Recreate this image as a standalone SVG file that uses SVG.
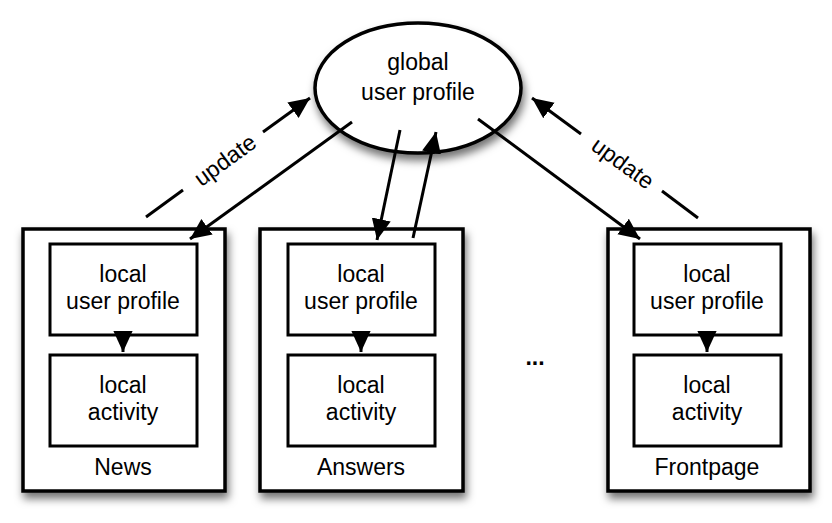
<svg xmlns="http://www.w3.org/2000/svg" width="832" height="523" viewBox="0 0 832 523">
<style>
.b{fill:#fff;stroke:#000;stroke-width:3.5}
.i{fill:#fff;stroke:#000;stroke-width:3}
.t{font-family:"Liberation Sans",Arial,sans-serif;font-size:23px;text-anchor:middle;fill:#000}
.c{stroke:#000;stroke-width:3;fill:none}
</style>
<defs>
<filter id="sh" x="-20%" y="-20%" width="140%" height="140%"><feDropShadow dx="2" dy="6" stdDeviation="4" flood-opacity="0.55"/></filter>
<marker id="a" markerWidth="8" markerHeight="8" refX="7" refY="4" orient="auto" markerUnits="strokeWidth"><path d="M0,0.8 L7,4 L0,7.2z" fill="#000"/></marker>
</defs>
<rect width="832" height="523" fill="#fff"/>
<g id="news">
<rect class="b" x="23" y="229" width="202" height="262" filter="url(#sh)"/>
<rect class="i" x="50" y="244" width="147" height="91"/>
<text class="t" x="123" y="282">local</text><text class="t" x="123" y="309">user profile</text>
<rect class="i" x="50" y="355" width="147" height="91"/>
<text class="t" x="123" y="393">local</text><text class="t" x="123" y="420">activity</text>
<text class="t" x="123" y="475">News</text>
</g>
<g id="answers">
<rect class="b" x="260" y="229" width="203" height="262" filter="url(#sh)"/>
<rect class="i" x="288" y="244" width="147" height="91"/>
<text class="t" x="361" y="282">local</text><text class="t" x="361" y="309">user profile</text>
<rect class="i" x="288" y="355" width="147" height="91"/>
<text class="t" x="361" y="393">local</text><text class="t" x="361" y="420">activity</text>
<text class="t" x="361" y="475">Answers</text>
</g>
<g id="frontpage">
<rect class="b" x="608" y="229" width="202" height="262" filter="url(#sh)"/>
<rect class="i" x="634" y="244" width="147" height="91"/>
<text class="t" x="707" y="282">local</text><text class="t" x="707" y="309">user profile</text>
<rect class="i" x="634" y="355" width="147" height="91"/>
<text class="t" x="707" y="393">local</text><text class="t" x="707" y="420">activity</text>
<text class="t" x="707" y="475">Frontpage</text>
</g>
<g id="global">
<ellipse class="b" cx="418" cy="88" rx="103" ry="65" filter="url(#sh)"/>
<text class="t" x="418" y="70" font-size="25">global</text><text class="t" x="418" y="100" font-size="25">user profile</text>
</g>
<text class="t" x="535" y="365" font-size="30" font-weight="bold">...</text>
<g id="connectors">
<path class="c" d="M352,122 L190,239" marker-end="url(#a)"/>
<path class="c" d="M400,130 L377,240" marker-end="url(#a)"/>
<path class="c" d="M413,238 L436,132" marker-end="url(#a)"/>
<path class="c" d="M478,119 L640,239" marker-end="url(#a)"/>
<path class="c" d="M146,217 L183,190"/>
<path class="c" d="M263,132 L310,98" marker-end="url(#a)"/>
<path class="c" d="M698,218 L662,191"/>
<path class="c" d="M581,134 L532,98" marker-end="url(#a)"/>
<path class="c" d="M123,335 L123,352" marker-end="url(#a)"/>
<path class="c" d="M361,335 L361,352" marker-end="url(#a)"/>
<path class="c" d="M707,335 L707,352" marker-end="url(#a)"/>
<text class="t" transform="translate(225,160) rotate(-36)" y="8" font-size="22">update</text>
<text class="t" transform="translate(623,163) rotate(36)" y="8" font-size="22">update</text>
</g>
</svg>
